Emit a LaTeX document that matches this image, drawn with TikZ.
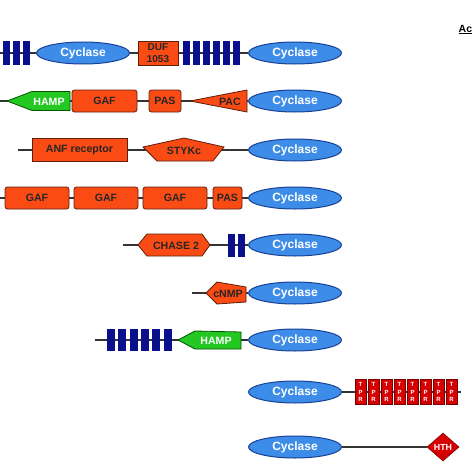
\documentclass[tikz,border=0pt]{standalone}
\usepackage{fontspec}
\setmainfont{Liberation Sans}
\usetikzlibrary{shapes.geometric}
\usetikzlibrary{backgrounds}

\definecolor{tmblue}{RGB}{10,15,140}
\definecolor{cycfill}{RGB}{60,140,232}
\definecolor{cycline}{RGB}{25,65,150}
\definecolor{domfill}{RGB}{250,75,20}
\definecolor{domline}{RGB}{95,30,10}
\definecolor{hampfill}{RGB}{35,200,35}
\definecolor{hampline}{RGB}{0,85,0}
\definecolor{tprfill}{RGB}{215,0,0}
\definecolor{tprline}{RGB}{120,0,0}

\begin{document}
\begin{tikzpicture}[x=1pt,y=-1pt]
\tikzstyle{cyc} = [ellipse, draw=cycline, fill=cycfill, line width=1pt, minimum width=93pt, minimum height=22pt, inner sep=0pt, text=white, font=\bfseries\fontsize{12}{14}\selectfont]
\tikzstyle{tm} = [rectangle, fill=tmblue, minimum width=7pt, minimum height=24pt, inner sep=0pt]
\tikzstyle{dom} = [rectangle, draw=domline, fill=domfill, line width=0.8pt, minimum height=22pt, inner sep=0pt, font=\bfseries\fontsize{10.6}{11}\selectfont, text=black!85]
\tikzstyle{rdom} = [dom, rounded corners=2.5pt]
\tikzstyle{poly} = [draw=domline, fill=domfill, line width=0.8pt]
\tikzstyle{hamp} = [draw=hampline, fill=hampfill, line width=0.8pt]
\tikzstyle{lbl} = [inner sep=0pt, font=\bfseries\fontsize{10.6}{11}\selectfont, text=black!85]
\tikzstyle{tpr} = [rectangle, draw=tprline, fill=tprfill, line width=0.6pt, minimum width=11pt, minimum height=25pt, inner sep=0pt, align=center, text=white, font=\bfseries\fontsize{6}{7.5}\selectfont]
\tikzstyle{bb} = [draw=black!80, line width=1.2pt]

\useasboundingbox (0,0) rectangle (474,474);

\node[anchor=base west, inner sep=0pt, font=\bfseries\fontsize{10.5}{13}\selectfont](ac) at (458.5,32){\underline{Ac}};

% row 1
\coordinate(r1s) at (0,53);
\foreach \i/\x in {1/6.5,2/16.5,3/26.5}
    \node[tm](r1a\i) at (\x,53){};
\node[cyc](r1c1) at (83,53){Cyclase};
\node[dom, minimum width=40pt, minimum height=24pt, align=center, font=\bfseries\fontsize{10}{11.5}\selectfont](r1d) at (158,53){DUF\\1053};
\foreach \i/\x in {1/186,2/196,3/206,4/216,5/226,6/236}
    \node[tm](r1b\i) at (\x,53){};
\node[cyc](r1c2) at (295,53){Cyclase};

% row 2
\coordinate(r2s) at (0,101);
\filldraw[hamp] (7,101) -- (32,91.5) -- (70,91.5) -- (70,110.5) -- (32,110.5) -- cycle;
\node[lbl, text=white](r2h) at (49,101.5){HAMP};
\node[rdom, minimum width=65pt](r2g) at (104.5,101){GAF};
\node[rdom, minimum width=32pt](r2p) at (165,101){PAS};
\filldraw[poly] (190,101) -- (247,90) -- (247,112) -- cycle;
\node[lbl](r2pac) at (230,101.5){PAC};
\node[cyc](r2c) at (295,101){Cyclase};

% row 3
\coordinate(r3s) at (18,150);
\node[dom, minimum width=95pt, minimum height=23pt](r3a) at (79.5,150){ANF receptor};
\filldraw[poly] (184,138) -- (224,147) -- (213,161) -- (157,161) -- (143,147) -- cycle;
\node[lbl](r3k) at (184,151){STYKc};
\node[cyc](r3c) at (295,150){Cyclase};

% row 4
\coordinate(r4s) at (0,198);
\foreach \i/\x in {1/37,2/106,3/175}
    \node[rdom, minimum width=64pt](r4g\i) at (\x,198){GAF};
\node[rdom, minimum width=29pt](r4p) at (227.5,198){PAS};
\node[cyc](r4c) at (295,198){Cyclase};

% row 5
\coordinate(r5s) at (123,245);
\filldraw[poly] (138,245) -- (147,234) -- (202,234) -- (210,245) -- (202,256) -- (147,256) -- cycle;
\node[lbl](r5ch) at (176,245.5){CHASE 2};
\foreach \i/\x in {1/231.5,2/241.5}
    \node[tm, minimum height=23pt](r5b\i) at (\x,245){};
\node[cyc](r5c) at (295,245){Cyclase};

% row 6
\coordinate(r6s) at (192,293);
\filldraw[poly] (206,293) -- (217,282) -- (246,287) -- (246,302) -- (217,304) -- cycle;
\node[lbl](r6n) at (228,293.5){cNMP};
\node[cyc](r6c) at (295,293){Cyclase};

% row 7
\coordinate(r7s) at (95,340);
\foreach \i/\x in {1/111,2/122.3,3/133.6,4/144.9,5/156.2,6/167.5}
    \node[tm, minimum width=8pt, minimum height=22pt](r7b\i) at (\x,340){};
\filldraw[hamp] (178,340) -- (195,331) -- (241,332) -- (241,349) -- (195,349) -- cycle;
\node[lbl, text=white](r7h) at (216,341){HAMP};
\node[cyc](r7c) at (295,340){Cyclase};

% row 8
\node[cyc](r8c) at (295,392){Cyclase};
\coordinate(r8e) at (461,392);
\foreach \i in {1,...,8}
    \node[tpr](r8t\i) at ({360.5+13*(\i-1)},392){T\\P\\R};

% row 9
\node[cyc](r9c) at (295,447){Cyclase};
\node[diamond, fill=tprfill, draw=tprline, line width=0.6pt, minimum width=32pt, minimum height=28pt, inner sep=0pt, text=white, font=\bfseries\fontsize{8.8}{10}\selectfont](hth) at (443,447){HTH};

\begin{scope}[on background layer]
\draw[bb](r1s)--(r1c2);
\draw[bb](r2s)--(r2c);
\draw[bb](r3s)--(r3c);
\draw[bb](r4s)--(r4c);
\draw[bb](r5s)--(r5c);
\draw[bb](r6s)--(r6c);
\draw[bb](r7s)--(r7c);
\draw[bb](r8c)--(r8e);
\draw[bb](r9c)--(hth);
\end{scope}
\end{tikzpicture}
\end{document}
